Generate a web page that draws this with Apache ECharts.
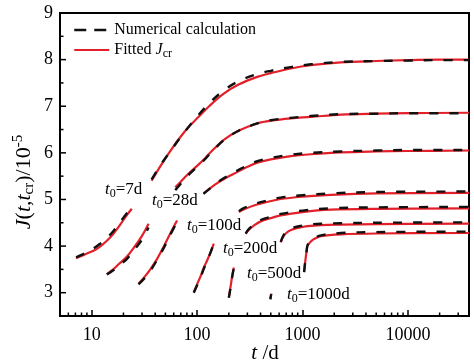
<!DOCTYPE html>
<html><head><meta charset="utf-8">
<script src="https://cdn.jsdelivr.net/npm/echarts@6/dist/echarts.min.js"></script>
<style>html,body{margin:0;padding:0;background:#fff}#c{width:474px;height:364px}</style>
</head><body><div id="c"></div>
<script>
// ---- data (t in days, J in 1e-5) ; null = gap in the drawn curve ----
const tA   = [7.1, 8, 9, 10.4, 12, 14, 16, 18, 20, 22, 24, null, 37, 45, 56, 70, 86, 100, 130, 179, 250, 372, 500, 774, 1200, 2318, 5000, 10000, 20000, 38000];
const fitA = [3.74, 3.79, 3.84, 3.90, 3.99, 4.12, 4.26, 4.41, 4.56, 4.69, 4.80, null, 5.40, 5.72, 6.05, 6.35, 6.59, 6.74, 7.00, 7.27, 7.47, 7.63, 7.71, 7.81, 7.88, 7.94, 7.97, 7.99, 8.00, 8.00];
const numA = [3.76, 3.81, 3.87, 3.95, 4.05, 4.18, 4.32, 4.47, 4.61, 4.73, 4.83, null, 5.43, 5.74, 6.04, 6.34, 6.60, 6.78, 7.06, 7.34, 7.54, 7.69, 7.76, 7.84, 7.90, 7.95, 7.97, 7.98, 7.99, 7.99];

const tB   = [13.9, 16, 18, 21.5, 25, 30, 34.6, null, 62, 70, 80, 100, 115, 130, 179, 250, 372, 500, 774, 1200, 2318, 5000, 10000, 38000];
const fitB = [3.40, 3.50, 3.61, 3.77, 3.96, 4.22, 4.48, null, 5.26, 5.38, 5.52, 5.72, 5.85, 5.98, 6.28, 6.48, 6.63, 6.69, 6.74, 6.77, 6.82, 6.84, 6.85, 6.86];
const numB = [3.39, 3.48, 3.58, 3.72, 3.90, 4.14, 4.40, null, 5.20, 5.34, 5.49, 5.70, 5.83, 5.96, 6.27, 6.48, 6.63, 6.70, 6.75, 6.79, 6.83, 6.84, 6.85, 6.85];

const tC   = [27.8, 32, 36, 41.6, 48, 55, 64.5, null, 115, 130, 150, 180, 223, 300, 372, 500, 774, 1200, 2318, 5000, 10000, 38000];
const fitC = [3.19, 3.35, 3.50, 3.72, 3.98, 4.25, 4.55, null, 5.13, 5.22, 5.33, 5.44, 5.55, 5.70, 5.79, 5.86, 5.93, 5.97, 6.01, 6.03, 6.04, 6.05];
const numC = [3.18, 3.32, 3.47, 3.70, 3.95, 4.22, 4.52, null, 5.12, 5.22, 5.34, 5.46, 5.58, 5.73, 5.82, 5.89, 5.96, 6.00, 6.03, 6.05, 6.06, 6.06];

const tD   = [93, 100, 110, 116, 125, 135, 144, null, 249, 280, 346, 450, 621, 1000, 1862, 5000, 38000];
const fitD = [3.01, 3.18, 3.40, 3.54, 3.70, 3.88, 4.05, null, 4.73, 4.79, 4.87, 4.94, 5.01, 5.06, 5.10, 5.13, 5.14];
const numD = [3.00, 3.16, 3.38, 3.52, 3.69, 3.88, 4.06, null, 4.75, 4.82, 4.90, 4.97, 5.04, 5.09, 5.13, 5.16, 5.17];

const tE   = [200, 205, 210, 216, 223, null, 289, 310, 350, 401, 500, 621, 1000, 1862, 5000, 38000];
const fitE = [2.90, 3.05, 3.20, 3.38, 3.54, null, 4.26, 4.35, 4.45, 4.53, 4.60, 4.66, 4.73, 4.78, 4.80, 4.81];
const numE = [2.89, 3.03, 3.18, 3.36, 3.53, null, 4.27, 4.37, 4.47, 4.56, 4.63, 4.69, 4.76, 4.81, 4.83, 4.84];

const tF   = [495, 505, null, 621, 668, 740, 832, 1000, 1117, 1500, 2318, 5000, 38000];
const fitF = [2.86, 2.98, null, 4.08, 4.23, 4.32, 4.37, 4.41, 4.43, 4.45, 4.46, 4.47, 4.48];
const numF = [2.86, 2.97, null, 4.09, 4.25, 4.35, 4.40, 4.44, 4.46, 4.48, 4.49, 4.50, 4.51];

const tG   = [1035, 1055, 1074, 1095, 1117, 1200, 1288, 1494, 2318, 5000, 38000];
const fitG = [3.44, 3.62, 3.76, 3.90, 4.01, 4.10, 4.15, 4.21, 4.25, 4.27, 4.28];
const numG = [3.44, 3.61, 3.75, 3.90, 4.02, 4.12, 4.17, 4.23, 4.28, 4.30, 4.31];

const curveLabels = ['7d', '28d', '100d', '200d', '500d', '1000d'];
const xTickLabels = [10, 100, 1000, 10000];
const xMinorTicks = [6, 7, 8, 9, 20, 30, 40, 50, 60, 70, 80, 90, 200, 300, 400, 500, 600, 700, 800, 900,
                     2000, 3000, 4000, 5000, 6000, 7000, 8000, 9000, 20000, 30000];
const yMajorTicks = [3, 4, 5, 6, 7, 8, 9];
const yMinorTicks = [3.5, 4.5, 5.5, 6.5, 7.5, 8.5];

// ---- chart ----
const SERIF = '"Liberation Serif", "Times New Roman", serif';
const RED = '#e3202a';
const X_MIN = 5, X_MAX = 38000, Y_MIN = 2.5, Y_MAX = 9;

function pairs(t, j) { return t.map((x, i) => (j[i] == null || x == null) ? ['-', '-'] : [x, j[i]]); }

const curves = [[tA, fitA, numA], [tB, fitB, numB], [tC, fitC, numC], [tD, fitD, numD],
                [tE, fitE, numE], [tF, fitF, numF], [tG, fitG, numG]];

const series = [];
curves.forEach(([t, fit, num]) => {
  series.push({
    name: 'Fitted Jcr', type: 'line', data: pairs(t, fit), symbol: 'none', showSymbol: false,
    smooth: 0.35, connectNulls: false, z: 2, silent: true,
    lineStyle: { color: RED, width: 2.2 }, itemStyle: { color: RED }
  });
  series.push({
    name: 'Numerical calculation', type: 'line', data: pairs(t, num), symbol: 'none', showSymbol: false,
    smooth: 0.35, connectNulls: false, z: 3, silent: true,
    lineStyle: { color: '#111', width: 2.4, type: [9, 11] }, itemStyle: { color: '#111' }
  });
});

// minor/major tick marks drawn through the axis scales
series.push({
  type: 'custom', silent: true, z: 5, clip: false,
  data: xMinorTicks.map(v => [v, Y_MIN]),
  encode: { x: 0, y: 1 },
  renderItem: (params, api) => {
    const p = api.coord([api.value(0), api.value(1)]);
    return { type: 'line', shape: { x1: p[0], y1: p[1], x2: p[0], y2: p[1] - 3.5 },
             style: { stroke: '#000', lineWidth: 1.5 } };
  }
});
series.push({
  type: 'custom', silent: true, z: 5, clip: false,
  data: yMajorTicks.map(v => [X_MIN, v, 6]).concat(yMinorTicks.map(v => [X_MIN, v, 3.5])),
  encode: { x: 0, y: 1 },
  renderItem: (params, api) => {
    const p = api.coord([api.value(0), api.value(1)]);
    return { type: 'line', shape: { x1: p[0], y1: p[1], x2: p[0] + api.value(2), y2: p[1] },
             style: { stroke: '#000', lineWidth: 1.5 } };
  }
});

const labRich = {
  i: { fontFamily: SERIF, fontSize: 17, fontStyle: 'italic', lineHeight: 20, color: '#000' },
  n: { fontFamily: SERIF, fontSize: 17, lineHeight: 20, color: '#000' },
  s: { fontFamily: SERIF, fontSize: 12, lineHeight: 12, verticalAlign: 'bottom', color: '#000' }
};
const labelPos = [[105, 190], [152, 201], [187, 226], [223, 249], [247, 273.5], [287, 294.5]];
const graphics = curveLabels.map((txt, k) => ({
  type: 'text', x: labelPos[k][0], y: labelPos[k][1], z: 10, silent: true,
  style: { text: '{i|t}{s|0}{n|=' + txt + '}', rich: labRich, align: 'left', verticalAlign: 'middle',
           fontFamily: SERIF, fontSize: 17, fill: '#000' }
}));
graphics.push({
  type: 'text', x: 24, y: 182, rotation: Math.PI / 2, z: 10, silent: true,
  style: {
    text: '{i|J}{n|(}{i|t}{n|,}{i|t}{sub|cr}{n|)/10}{sup|-5}',
    rich: {
      i: { fontFamily: SERIF, fontSize: 22, fontStyle: 'italic', lineHeight: 26, color: '#000' },
      n: { fontFamily: SERIF, fontSize: 22, lineHeight: 26, color: '#000' },
      sub: { fontFamily: SERIF, fontSize: 15, lineHeight: 14, verticalAlign: 'bottom', color: '#000' },
      sup: { fontFamily: SERIF, fontSize: 15, lineHeight: 10, verticalAlign: 'top', color: '#000' }
    },
    align: 'center', verticalAlign: 'middle', fontFamily: SERIF, fontSize: 22, fill: '#000'
  }
});
graphics.push({
  type: 'text', x: 265, y: 353, z: 10, silent: true,
  style: {
    text: '{i|t}{n| /d}',
    rich: {
      i: { fontFamily: SERIF, fontSize: 21, fontStyle: 'italic', lineHeight: 24, color: '#000' },
      n: { fontFamily: SERIF, fontSize: 21, lineHeight: 24, color: '#000' }
    },
    align: 'center', verticalAlign: 'middle', fontFamily: SERIF, fontSize: 21, fill: '#000'
  }
});

const chart = echarts.init(document.getElementById('c'), null, { renderer: 'canvas' });
chart.setOption({
  animation: false,
  backgroundColor: '#fff',
  grid: { left: 60, right: 5, top: 13, bottom: 48, show: true, borderColor: '#000', borderWidth: 2, backgroundColor: 'transparent' },
  xAxis: {
    type: 'log', logBase: 10, min: X_MIN, max: X_MAX,
    axisLine: { lineStyle: { color: '#000', width: 2 } },
    axisTick: { inside: true, length: 6, lineStyle: { color: '#000', width: 1.5 } },
    axisLabel: {
      margin: 10, color: '#000', fontFamily: SERIF, fontSize: 18,
      formatter: v => { const r = Math.round(v); return xTickLabels.indexOf(r) >= 0 ? String(r) : ''; }
    },
    splitLine: { show: false }
  },
  yAxis: {
    type: 'value', min: Y_MIN, max: Y_MAX, interval: 0.5,
    axisLine: { show: true, lineStyle: { color: '#000', width: 2 } },
    axisTick: { show: false },
    axisLabel: {
      margin: 7, color: '#000', fontFamily: SERIF, fontSize: 18,
      formatter: v => (Math.abs(v - Math.round(v)) < 1e-6 && yMajorTicks.indexOf(Math.round(v)) >= 0) ? String(Math.round(v)) : ''
    },
    splitLine: { show: false }
  },
  legend: {
    left: 68, top: 15, orient: 'vertical', itemGap: 0, itemWidth: 35, itemHeight: 14,
    selectedMode: false,
    itemStyle: { opacity: 0, borderWidth: 0 },
    data: [
      { name: 'Numerical calculation', itemStyle: { opacity: 0, borderWidth: 0 }, lineStyle: { type: [12, 8], width: 2.5, color: '#111' } },
      { name: 'Fitted Jcr', itemStyle: { opacity: 0, borderWidth: 0 }, lineStyle: { width: 2.2, color: RED } }
    ],
    textStyle: {
      fontFamily: SERIF, fontSize: 16, color: '#000', lineHeight: 20,
      rich: {
        n: { fontFamily: SERIF, fontSize: 16, lineHeight: 20, color: '#000' },
        i: { fontFamily: SERIF, fontSize: 16, fontStyle: 'italic', lineHeight: 20, color: '#000' },
        s: { fontFamily: SERIF, fontSize: 12, lineHeight: 10, verticalAlign: 'bottom', color: '#000' }
      }
    },
    formatter: name => name === 'Fitted Jcr' ? '{n|Fitted }{i|J}{s|cr}' : '{n|Numerical calculation}'
  },
  graphic: graphics,
  series: series
});
</script>
</body></html>
